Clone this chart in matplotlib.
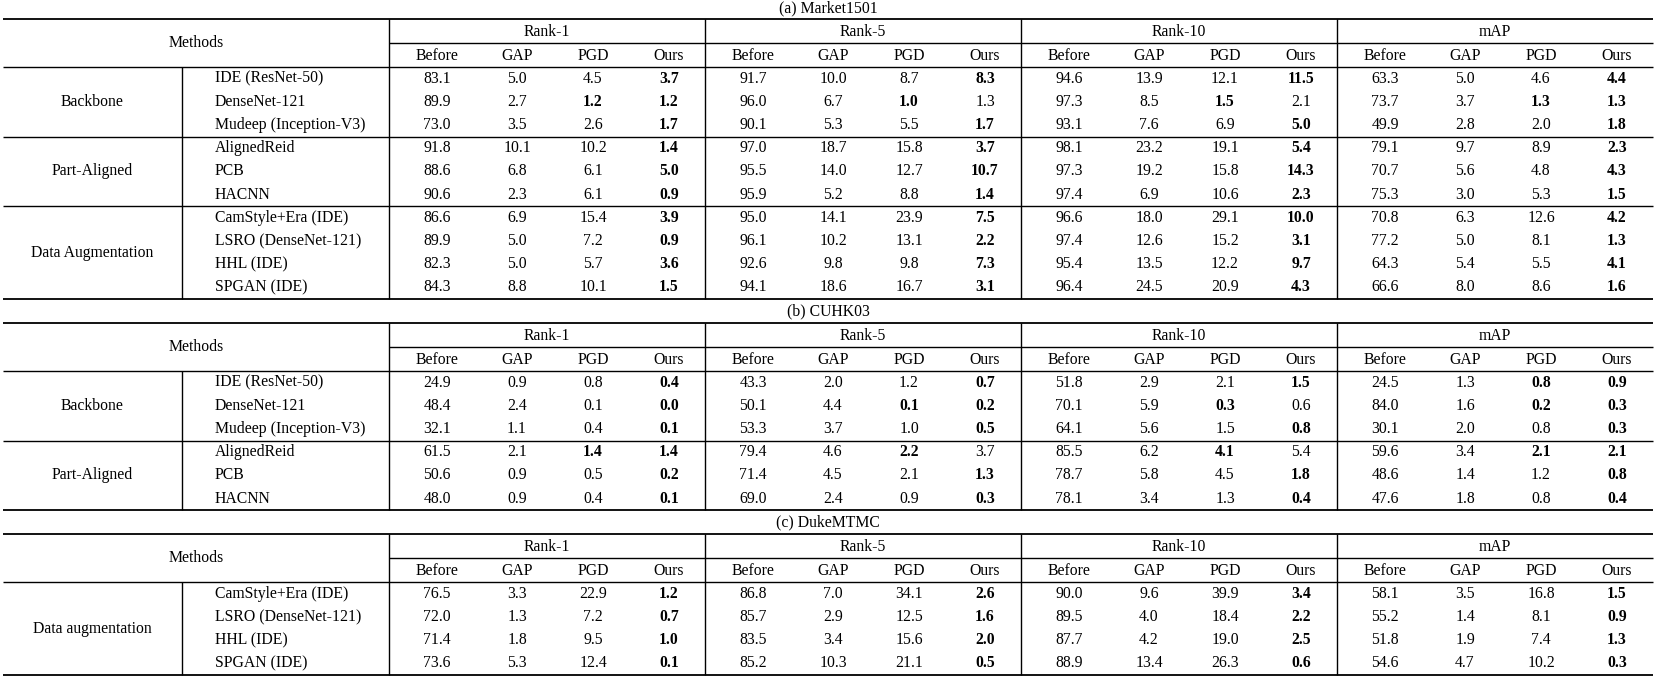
import matplotlib
matplotlib.use("Agg")
import matplotlib.pyplot as plt

metrics = ["Rank-1", "Rank-5", "Rank-10", "mAP"]
subcols = ["Before", "GAP", "PGD", "Ours"]

# Section (a) Market1501
a_title = "(a) Market1501"
a_groups = [("Backbone", ["IDE (ResNet-50)", "DenseNet-121", "Mudeep (Inception-V3)"]),
            ("Part-Aligned", ["AlignedReid", "PCB", "HACNN"]),
            ("Data Augmentation", ["CamStyle+Era (IDE)", "LSRO (DenseNet-121)", "HHL (IDE)", "SPGAN (IDE)"])]
a_values = [
    [83.1, 5.0, 4.5, 3.7, 91.7, 10.0, 8.7, 8.3, 94.6, 13.9, 12.1, 11.5, 63.3, 5.0, 4.6, 4.4],
    [89.9, 2.7, 1.2, 1.2, 96.0, 6.7, 1.0, 1.3, 97.3, 8.5, 1.5, 2.1, 73.7, 3.7, 1.3, 1.3],
    [73.0, 3.5, 2.6, 1.7, 90.1, 5.3, 5.5, 1.7, 93.1, 7.6, 6.9, 5.0, 49.9, 2.8, 2.0, 1.8],
    [91.8, 10.1, 10.2, 1.4, 97.0, 18.7, 15.8, 3.7, 98.1, 23.2, 19.1, 5.4, 79.1, 9.7, 8.9, 2.3],
    [88.6, 6.8, 6.1, 5.0, 95.5, 14.0, 12.7, 10.7, 97.3, 19.2, 15.8, 14.3, 70.7, 5.6, 4.8, 4.3],
    [90.6, 2.3, 6.1, 0.9, 95.9, 5.2, 8.8, 1.4, 97.4, 6.9, 10.6, 2.3, 75.3, 3.0, 5.3, 1.5],
    [86.6, 6.9, 15.4, 3.9, 95.0, 14.1, 23.9, 7.5, 96.6, 18.0, 29.1, 10.0, 70.8, 6.3, 12.6, 4.2],
    [89.9, 5.0, 7.2, 0.9, 96.1, 10.2, 13.1, 2.2, 97.4, 12.6, 15.2, 3.1, 77.2, 5.0, 8.1, 1.3],
    [82.3, 5.0, 5.7, 3.6, 92.6, 9.8, 9.8, 7.3, 95.4, 13.5, 12.2, 9.7, 64.3, 5.4, 5.5, 4.1],
    [84.3, 8.8, 10.1, 1.5, 94.1, 18.6, 16.7, 3.1, 96.4, 24.5, 20.9, 4.3, 66.6, 8.0, 8.6, 1.6],
]
STD = [3, 7, 11, 15]
a_bold = [STD, [2, 3, 6, 10, 14, 15], STD, STD, STD, STD, STD, STD, STD, STD]

# Section (b) CUHK03
b_title = "(b) CUHK03"
b_groups = [("Backbone", ["IDE (ResNet-50)", "DenseNet-121", "Mudeep (Inception-V3)"]),
            ("Part-Aligned", ["AlignedReid", "PCB", "HACNN"])]
b_values = [
    [24.9, 0.9, 0.8, 0.4, 43.3, 2.0, 1.2, 0.7, 51.8, 2.9, 2.1, 1.5, 24.5, 1.3, 0.8, 0.9],
    [48.4, 2.4, 0.1, 0.0, 50.1, 4.4, 0.1, 0.2, 70.1, 5.9, 0.3, 0.6, 84.0, 1.6, 0.2, 0.3],
    [32.1, 1.1, 0.4, 0.1, 53.3, 3.7, 1.0, 0.5, 64.1, 5.6, 1.5, 0.8, 30.1, 2.0, 0.8, 0.3],
    [61.5, 2.1, 1.4, 1.4, 79.4, 4.6, 2.2, 3.7, 85.5, 6.2, 4.1, 5.4, 59.6, 3.4, 2.1, 2.1],
    [50.6, 0.9, 0.5, 0.2, 71.4, 4.5, 2.1, 1.3, 78.7, 5.8, 4.5, 1.8, 48.6, 1.4, 1.2, 0.8],
    [48.0, 0.9, 0.4, 0.1, 69.0, 2.4, 0.9, 0.3, 78.1, 3.4, 1.3, 0.4, 47.6, 1.8, 0.8, 0.4],
]
b_bold = [[3, 7, 11, 14, 15], [3, 6, 7, 10, 14, 15], STD, [2, 3, 6, 10, 14, 15], STD, STD]

# Section (c) DukeMTMC
c_title = "(c) DukeMTMC"
c_groups = [("Data augmentation", ["CamStyle+Era (IDE)", "LSRO (DenseNet-121)", "HHL (IDE)", "SPGAN (IDE)"])]
c_values = [
    [76.5, 3.3, 22.9, 1.2, 86.8, 7.0, 34.1, 2.6, 90.0, 9.6, 39.9, 3.4, 58.1, 3.5, 16.8, 1.5],
    [72.0, 1.3, 7.2, 0.7, 85.7, 2.9, 12.5, 1.6, 89.5, 4.0, 18.4, 2.2, 55.2, 1.4, 8.1, 0.9],
    [71.4, 1.8, 9.5, 1.0, 83.5, 3.4, 15.6, 2.0, 87.7, 4.2, 19.0, 2.5, 51.8, 1.9, 7.4, 1.3],
    [73.6, 5.3, 12.4, 0.1, 85.2, 10.3, 21.1, 0.5, 88.9, 13.4, 26.3, 0.6, 54.6, 4.7, 10.2, 0.3],
]
c_bold = [STD, STD, STD, STD]

W, H = 1662, 678
fig = plt.figure(figsize=(W / 100, H / 100), dpi=100)
ax = fig.add_axes([0, 0, 1, 1])
ax.set_xlim(0, W)
ax.set_ylim(H, 0)
ax.axis("off")

FONT = "Liberation Serif"
FS = 11.3
LW = 1.0
X0, X1 = 3, 1653
XG = 182
XM = 389
GW = 316
SUBOFF = [48, 128, 204, 280]
HR = 24
RH = 23.2


def txt(x, y, s, ha="center", bold=False):
    ax.text(x, y, s, ha=ha, va="center", fontsize=FS, family=FONT,
            fontweight="bold" if bold else "normal", color="black")


def hline(y, xa=X0, xb=X1, lw=LW):
    ax.plot([xa, xb], [y, y], color="black", lw=lw, solid_capstyle="butt")


def vline(x, ya, yb):
    ax.plot([x, x], [ya, yb], color="black", lw=LW, solid_capstyle="butt")


def section(y_title, y_top, title, groups, values, bold):
    txt((X0 + X1) / 2, y_title, title)
    hline(y_top, lw=1.3)
    y_mid = y_top + HR
    y_sub = y_mid + HR
    hline(y_mid, XM, X1)
    hline(y_sub)
    txt((X0 + XM) / 2, (y_top + y_sub) / 2, "Methods")
    for m, name in enumerate(metrics):
        gx = XM + m * GW
        txt(gx + GW / 2, (y_top + y_mid) / 2 + 1, name)
        for k, s in enumerate(subcols):
            txt(gx + SUBOFF[k], (y_mid + y_sub) / 2 + 1, s)
    y = y_sub
    r = 0
    for gname, methods in groups:
        n = len(methods)
        txt((X0 + XG) / 2, y + n * RH / 2, gname)
        for i, meth in enumerate(methods):
            yc = y + (i + 0.5) * RH
            txt(215, yc, meth, ha="left")
            for j, v in enumerate(values[r]):
                gx = XM + (j // 4) * GW + SUBOFF[j % 4]
                txt(gx, yc, f"{v:.1f}", bold=(j in bold[r]))
            r += 1
        y += n * RH
        hline(y, lw=1.3 if (gname, methods) == groups[-1] else LW)
    vline(XG, y_sub, y)
    for m in range(4):
        vline(XM + m * GW, y_top, y)
    return y


yb = section(8, 19, a_title, a_groups, a_values, a_bold)
yb = section(yb + 12, yb + 24, b_title, b_groups, b_values, b_bold)
yb = section(yb + 12, yb + 24, c_title, c_groups, c_values, c_bold)

fig.savefig("out.png", dpi=100)
